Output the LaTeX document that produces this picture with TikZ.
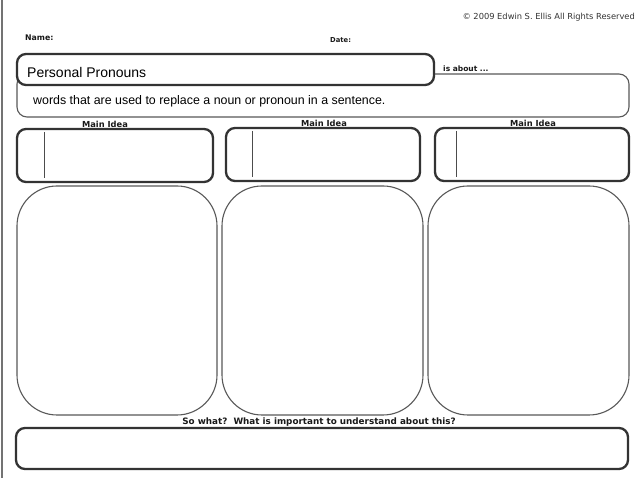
\documentclass[tikz,border=0pt]{standalone}
\usepackage{fontspec}
\setmainfont{Liberation Sans}
\newfontfamily\labelfont{DejaVu Sans}
\begin{document}
\begin{tikzpicture}[x=1pt,y=-1pt,
  thickbox/.style={draw=black!80,line width=2.3pt,rounded corners=9pt,fill=white,inner sep=0pt},
  thinbox/.style={draw=black!65,line width=1.1pt,fill=white,inner sep=0pt},
  bigbox/.style={thinbox,rounded corners=40pt},
  lbl/.style={font=\labelfont\bfseries\fontsize{8.3}{10}\selectfont,inner sep=0pt,text=black!90},
  copy/.style={font=\labelfont\fontsize{8.3}{10}\selectfont,inner sep=0pt,text=black!80},
  body/.style={font=\fontsize{14}{16}\selectfont,inner sep=0pt},
  desc/.style={font=\fontsize{12.4}{15}\selectfont,inner sep=0pt},
  divider/.style={draw=black!70,line width=1pt}]
\useasboundingbox (0,0) rectangle (638,478);
\fill[white] (0,0) rectangle (638,478);
\draw[black!55,line width=2pt] (1.5,0) -- (1.5,478);

% header texts
\node[copy,anchor=east] (copyr) at (635,17) {© 2009 Edwin S. Ellis All Rights Reserved};
\node[lbl,anchor=west,font=\labelfont\bfseries\fontsize{7.8}{9}\selectfont] (name) at (25,38) {Name:};
\node[lbl,anchor=west,font=\labelfont\bfseries\fontsize{6.8}{9}\selectfont] (date) at (330,40) {Date:};

% topic and description
\node[thinbox,rounded corners=10pt,minimum width=612pt,minimum height=43pt] (descbox) at (323,95.5) {};
\node[thickbox,minimum width=417pt,minimum height=31pt] (topic) at (225.5,69.5) {};
\node[body,anchor=west] (topictext) at (27,72) {Personal Pronouns};
\node[lbl,anchor=west,font=\labelfont\bfseries\fontsize{7.5}{9}\selectfont] (about) at (443,69) {is about ...};
\node[desc,anchor=west] (desctext) at (33,101) {words that are used to replace a noun or pronoun in a sentence.};

% main idea boxes
\node[thickbox,minimum width=196pt,minimum height=53pt] (mi1) at (115,155.5) {};
\node[thickbox,minimum width=194pt,minimum height=53pt] (mi2) at (323,154.5) {};
\node[thickbox,minimum width=194pt,minimum height=53pt] (mi3) at (532,154.5) {};
\node[lbl] (mil1) at (105,124) {Main Idea};
\node[lbl] (mil2) at (324,123) {Main Idea};
\node[lbl] (mil3) at (533,123) {Main Idea};
\draw[divider] (44,132) -- (44,178);
\draw[divider] (252,131) -- (252,177);
\draw[divider] (456,131) -- (456,177);

% detail boxes
\node[bigbox,minimum width=200pt,minimum height=229pt] (d1) at (117,300.5) {};
\node[bigbox,minimum width=201pt,minimum height=229pt] (d2) at (322.5,300.5) {};
\node[bigbox,minimum width=201pt,minimum height=229pt] (d3) at (528.5,300.5) {};

% so what
\node[lbl,font=\labelfont\bfseries\fontsize{8.8}{10}\selectfont] (sowhat) at (319,422) {So what?\ \ What is important to understand about this?};
\node[thickbox,minimum width=612pt,minimum height=41pt] (sobox) at (322,448.5) {};
\end{tikzpicture}
\end{document}
